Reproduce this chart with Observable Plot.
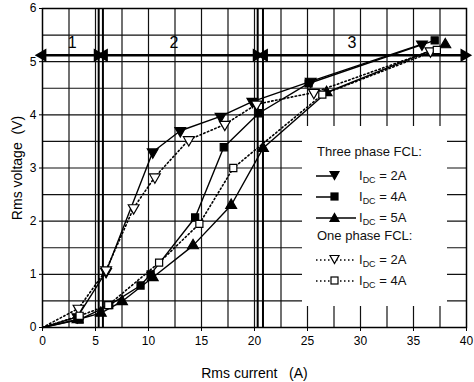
<!DOCTYPE html>
<html><head><meta charset="utf-8">
<script src="https://cdn.jsdelivr.net/npm/d3@7"></script>
<script src="https://cdn.jsdelivr.net/npm/@observablehq/plot@0.6"></script>
<style>
body{margin:0;background:#fff;font-family:"Liberation Sans",Arial,sans-serif;}
#wrap{position:relative;width:474px;height:382px;overflow:hidden;}
#legend{position:absolute;left:302px;top:126px;width:145px;height:180px;background:#fff;font-size:13px;color:#111;}
.row{position:absolute;left:0;height:20px;width:145px;}
.row svg{position:absolute;left:12px;top:0;}
.row span{position:absolute;left:57px;top:2px;white-space:nowrap;}
.hdr{position:absolute;left:15px;white-space:nowrap;}
sub{font-size:9px;vertical-align:-3px;}
</style>
</head><body>
<div id="wrap"></div>
<script>
// ---- data ----
const xTicks = [0, 5, 10, 15, 20, 25, 30, 35, 40];
const yTicks = [0, 1, 2, 3, 4, 5, 6];
const xGrid = [2.5, 5, 7.5, 10, 12.5, 15, 17.5, 20, 22.5, 25, 27.5, 30, 32.5, 35, 37.5];
const yGrid = [0.5, 1, 1.5, 2, 2.5, 3, 3.5, 4, 4.5, 5, 5.5];
const boundaries = [5.3, 5.7, 20.3, 20.8];
const regionLabels = ["1", "2", "3"];
const regionStart = [0, 5.8, 20.9];
const regionEnd = [5.2, 20.2, 39.8];
const regionLabelX = [2.8, 12.4, 29.2];
const arrowY = 5.12;
const labelY = 5.36;

const three2A_x = [0, 3.3, 6, 10.4, 13, 16.8, 19.8, 25.3, 35.8];
const three2A_y = [0, 0.2, 1.05, 3.3, 3.7, 3.97, 4.25, 4.63, 5.33];
const three4A_x = [0, 3.5, 6.3, 9.25, 10.2, 14.4, 17.1, 20.4, 25.1, 37];
const three4A_y = [0, 0.15, 0.42, 0.79, 1.0, 2.07, 3.39, 4.03, 4.59, 5.4];
const three5A_x = [0, 3.3, 5.5, 7.5, 10.4, 14.2, 17.8, 20.8, 26.8, 38];
const three5A_y = [0, 0.15, 0.27, 0.49, 0.94, 1.54, 2.3, 3.37, 4.42, 5.32];
const one2A_x = [0, 3.4, 6, 8.6, 10.6, 13.8, 17.2, 20.2, 25.6, 36.6];
const one2A_y = [0, 0.36, 1.08, 2.25, 2.83, 3.53, 3.82, 4.2, 4.42, 5.2];
const one4A_x = [0, 3.5, 6.2, 11, 14.8, 18, 26.4, 37.2];
const one4A_y = [0, 0.22, 0.42, 1.22, 1.95, 3.0, 4.38, 5.22];

// ---- build tables ----
const zip = (xs, ys) => xs.map((x, i) => ({x, y: ys[i]}));
const regions = regionLabels.map((l, i) => ({label: l, start: regionStart[i], end: regionEnd[i], lx: regionLabelX[i]}));
const series = [
  {d: zip(three2A_x, three2A_y), symbol: "triangle", rotate: 180, fill: "#000", dash: null},
  {d: zip(three4A_x, three4A_y), symbol: "square", rotate: 0, fill: "#000", dash: null},
  {d: zip(three5A_x, three5A_y), symbol: "triangle", rotate: 0, fill: "#000", dash: null},
  {d: zip(one2A_x, one2A_y), symbol: "triangle", rotate: 180, fill: "#fff", dash: "1.5,2.5"},
  {d: zip(one4A_x, one4A_y), symbol: "square", rotate: 0, fill: "#fff", dash: "1.5,2.5"}
];

const marks = [
  Plot.ruleX(xGrid, {stroke: "#111", strokeWidth: 1.2}),
  Plot.ruleY(yGrid, {stroke: "#111", strokeWidth: 1.2}),
  Plot.ruleX(boundaries, {stroke: "#000", strokeWidth: 2}),
  Plot.frame({stroke: "#000", strokeWidth: 1.5}),
  Plot.ruleY(regions, {x1: "start", x2: "end", y: () => arrowY, stroke: "#000", strokeWidth: 2.5}),
  Plot.dot(regions, {x: "start", y: () => arrowY, symbol: "triangle", rotate: -90, fill: "#000", stroke: "none", r: 5}),
  Plot.dot(regions, {x: "end", y: () => arrowY, symbol: "triangle", rotate: 90, fill: "#000", stroke: "none", r: 5}),
  Plot.text(regions, {x: "lx", y: () => labelY, text: "label", fontSize: 16, fill: "#000"})
];
for (const s of series) {
  marks.push(Plot.line(s.d, {x: "x", y: "y", stroke: "#000", strokeWidth: s.dash ? 1.6 : 1.4, strokeDasharray: s.dash}));
}
for (const s of series) {
  marks.push(Plot.dot(s.d.slice(1), {x: "x", y: "y", symbol: s.symbol, rotate: s.rotate, fill: s.fill, stroke: "#000", strokeWidth: 1.2, r: 4}));
}

const chart = Plot.plot({
  width: 474, height: 382,
  marginLeft: 42, marginRight: 8, marginTop: 8, marginBottom: 55,
  style: {fontFamily: "Liberation Sans, Arial, sans-serif", fontSize: "12px", color: "#000", background: "#fff"},
  x: {domain: [0, 40], ticks: xTicks, tickFormat: "d", tickSize: 4, tickPadding: 5, label: "Rms current\u00a0\u00a0\u00a0(A)", labelAnchor: "center", labelOffset: 50, labelArrow: false},
  y: {domain: [0, 6], ticks: yTicks, tickFormat: "d", tickSize: 3, tickPadding: 3, label: "Rms voltage\u00a0\u00a0(V)", labelAnchor: "center", labelOffset: 30, labelArrow: false},
  marks
});
chart.querySelectorAll("g[aria-label='x-axis label'] text, g[aria-label='y-axis label'] text").forEach(t => t.style.fontSize = "14px");
document.getElementById("wrap").appendChild(chart);

// ---- legend (HTML overlay) ----
const legendRows = [
  {type: "hdr", text: "Three phase FCL:"},
  {type: "item", s: 0, val: "2A"},
  {type: "item", s: 1, val: "4A"},
  {type: "item", s: 2, val: "5A"},
  {type: "hdr", text: "One phase FCL:"},
  {type: "item", s: 3, val: "2A"},
  {type: "item", s: 4, val: "4A"}
];
const legend = document.createElement("div");
legend.id = "legend";
legendRows.forEach((r, i) => {
  const top = 19 + i * 21;
  if (r.type === "hdr") {
    const h = document.createElement("div");
    h.className = "hdr"; h.style.top = (top - 1) + "px"; h.textContent = r.text;
    legend.appendChild(h);
  } else {
    const s = series[r.s];
    const row = document.createElement("div");
    row.className = "row"; row.style.top = top + "px";
    const sym = s.symbol === "square"
      ? `<rect x="17" y="6" width="7" height="7" fill="${s.fill}" stroke="#000" stroke-width="1.2"/>`
      : (s.rotate === 180
        ? `<path d="M16,5.5 L25,5.5 L20.5,13.5 Z" fill="${s.fill}" stroke="#000" stroke-width="1.2"/>`
        : `<path d="M16,13.5 L25,13.5 L20.5,5.5 Z" fill="${s.fill}" stroke="#000" stroke-width="1.2"/>`);
    const x2 = (r.s === 2 || s.dash) ? 42 : 18;
    row.innerHTML = `<svg width="44" height="20"><line x1="2" y1="10" x2="${x2}" y2="10" stroke="#000" stroke-width="1.5" ${s.dash ? 'stroke-dasharray="1.5,2.5"' : ''}/>${sym}</svg><span>I<sub>DC</sub> = ${r.val}</span>`;
    legend.appendChild(row);
  }
});
document.getElementById("wrap").appendChild(legend);
</script>
</body></html>
